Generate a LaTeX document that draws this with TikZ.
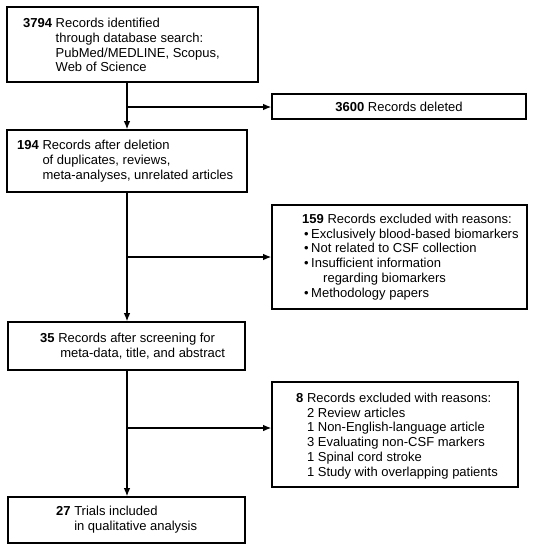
\documentclass[tikz,border=0pt]{standalone}
\usepackage{fontspec}
\setmainfont{Liberation Sans}
\usetikzlibrary{arrows.meta,calc}
\newcommand{\ind}[1]{\hphantom{\textbf{#1} }}
\newcommand{\bul}{\hspace*{2pt}\textbullet\hspace{2.5pt}}
\begin{document}
\begin{tikzpicture}[x=1pt,y=-1pt,
 box/.style={draw=black,line width=1.6pt,inner sep=0pt},
 txt/.style={anchor=west,align=left,inner sep=0pt,font=\fontsize{13}{14.8}\selectfont},
 conn/.style={line width=1.2pt,-{Latex[length=8pt,width=6.5pt]}},
 trunk/.style={line width=1.2pt}]
\useasboundingbox (0,0) rectangle (533,550);
% boxes
\node[box,minimum width=251pt,minimum height=75pt] (b1) at (132.5,44.5) {};
\node[box,minimum width=240pt,minimum height=62pt] (b2) at (127,161) {};
\node[box,minimum width=237pt,minimum height=48pt] (b3) at (126.5,346) {};
\node[box,minimum width=237pt,minimum height=46pt] (b4) at (126.5,520) {};
\node[box,minimum width=254pt,minimum height=25pt] (r1) at (399,106.5) {};
\node[box,minimum width=255pt,minimum height=104pt] (r2) at (399.5,257) {};
\node[box,minimum width=246pt,minimum height=105pt] (r3) at (395,434.5) {};
% texts
\node[txt] (t1) at (23,45) {\textbf{3794} Records identified\\\ind{3794}through database search:\\\ind{3794}PubMed/MEDLINE, Scopus,\\\ind{3794}Web of Science};
\node[txt] (t2) at (17,161) {\textbf{194} Records after deletion\\\ind{194}of duplicates, reviews,\\\ind{194}meta-analyses, unrelated articles};
\node[txt] (t3) at (40,346) {\textbf{35} Records after screening for\\\ind{35}\hspace{2pt}meta-data, title, and abstract};
\node[txt] (t4) at (56,520) {\textbf{27} Trials included\\\ind{27}in qualitative analysis};
\node[font=\fontsize{13}{14.8}\selectfont,inner sep=0pt] (t5) at (r1.center) {\textbf{3600} Records deleted};
\node[txt] (t6) at (302,257) {\textbf{159} Records excluded with reasons:\\\bul Exclusively blood-based biomarkers\\\bul Not related to CSF collection\\\bul Insufficient information\\\hspace*{21pt}regarding biomarkers\\\bul Methodology papers};
\node[txt] (t7) at (296,436) {\textbf{8} Records excluded with reasons:\\\ind{8}2 Review articles\\\ind{8}1 Non-English-language article\\\ind{8}3 Evaluating non-CSF markers\\\ind{8}1 Spinal cord stroke\\\ind{8}1 Study with overlapping patients};
% junctions
\coordinate (j1) at (127,107);
\coordinate (j2) at (127,257);
\coordinate (j3) at (127,428);
% connectors
\draw[conn] (b1.south -| j1) -- (b2.north -| j1);
\draw[conn] (j1) -- (j1 -| r1.west);
\draw[conn] (b2.south -| j2) -- (b3.north -| j2);
\draw[conn] (j2) -- (j2 -| r2.west);
\draw[conn] (b3.south -| j3) -- (b4.north -| j3);
\draw[conn] (j3) -- (j3 -| r3.west);
\end{tikzpicture}
\end{document}
